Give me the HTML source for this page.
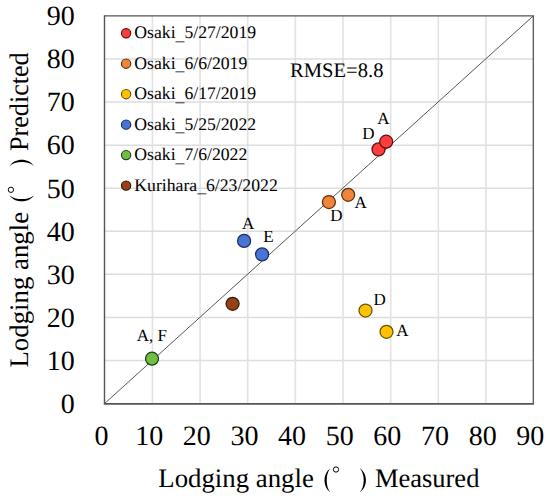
<!DOCTYPE html>
<html><head><meta charset="utf-8"><style>
html,body{margin:0;padding:0;background:#fff;width:550px;height:500px;overflow:hidden}
svg{display:block}
</style></head><body>
<svg width="550" height="500" viewBox="0 0 550 500" font-family="Liberation Serif" fill="#000" text-rendering="geometricPrecision">
<line x1="152.44" y1="15.90" x2="152.44" y2="403.60" stroke="#E2E2E2" stroke-width="1.6"/>
<line x1="104.50" y1="360.52" x2="533.30" y2="360.52" stroke="#DDDDDD" stroke-width="1.5"/>
<line x1="200.09" y1="15.90" x2="200.09" y2="403.60" stroke="#E2E2E2" stroke-width="1.6"/>
<line x1="104.50" y1="317.44" x2="533.30" y2="317.44" stroke="#DDDDDD" stroke-width="1.5"/>
<line x1="247.73" y1="15.90" x2="247.73" y2="403.60" stroke="#E2E2E2" stroke-width="1.6"/>
<line x1="104.50" y1="274.37" x2="533.30" y2="274.37" stroke="#DDDDDD" stroke-width="1.5"/>
<line x1="295.38" y1="15.90" x2="295.38" y2="403.60" stroke="#E2E2E2" stroke-width="1.6"/>
<line x1="104.50" y1="231.29" x2="533.30" y2="231.29" stroke="#DDDDDD" stroke-width="1.5"/>
<line x1="343.02" y1="15.90" x2="343.02" y2="403.60" stroke="#E2E2E2" stroke-width="1.6"/>
<line x1="104.50" y1="188.21" x2="533.30" y2="188.21" stroke="#DDDDDD" stroke-width="1.5"/>
<line x1="390.67" y1="15.90" x2="390.67" y2="403.60" stroke="#E2E2E2" stroke-width="1.6"/>
<line x1="104.50" y1="145.13" x2="533.30" y2="145.13" stroke="#DDDDDD" stroke-width="1.5"/>
<line x1="438.31" y1="15.90" x2="438.31" y2="403.60" stroke="#E2E2E2" stroke-width="1.6"/>
<line x1="104.50" y1="102.06" x2="533.30" y2="102.06" stroke="#DDDDDD" stroke-width="1.5"/>
<line x1="485.96" y1="15.90" x2="485.96" y2="403.60" stroke="#E2E2E2" stroke-width="1.6"/>
<line x1="104.50" y1="58.98" x2="533.30" y2="58.98" stroke="#DDDDDD" stroke-width="1.5"/>
<line x1="104.5" y1="403.6" x2="533.3" y2="15.9" stroke="#575757" stroke-width="1"/>
<path d="M104.5,15.9 H533.3 V403.6" fill="none" stroke="#555555" stroke-width="1.3"/>
<line x1="104.5" y1="15.25" x2="104.5" y2="403.6" stroke="#555555" stroke-width="1.4"/>
<line x1="103.8" y1="403.8" x2="533.9499999999999" y2="403.8" stroke="#555555" stroke-width="1.8"/>
<circle cx="378.5" cy="149.4" r="6.5" fill="#FF3D3D" stroke="#601010" stroke-width="1.25"/>
<circle cx="386.2" cy="141.7" r="6.5" fill="#FF3D3D" stroke="#601010" stroke-width="1.25"/>
<circle cx="348.2" cy="194.8" r="6.5" fill="#F0843A" stroke="#5C300E" stroke-width="1.25"/>
<circle cx="328.9" cy="202.0" r="6.5" fill="#F0843A" stroke="#5C300E" stroke-width="1.25"/>
<circle cx="365.5" cy="310.5" r="6.5" fill="#FFC200" stroke="#6A5200" stroke-width="1.25"/>
<circle cx="386.5" cy="331.8" r="6.5" fill="#FFC200" stroke="#6A5200" stroke-width="1.25"/>
<circle cx="244.1" cy="240.9" r="6.5" fill="#4775D6" stroke="#1E2E5C" stroke-width="1.25"/>
<circle cx="262.1" cy="254.4" r="6.5" fill="#4775D6" stroke="#1E2E5C" stroke-width="1.25"/>
<circle cx="232.6" cy="303.8" r="6.5" fill="#964216" stroke="#3A1806" stroke-width="1.25"/>
<circle cx="152.0" cy="358.7" r="6.5" fill="#6FBE45" stroke="#1F3D12" stroke-width="1.25"/>
<text x="383.50" y="123.80" text-anchor="middle" font-size="17">A</text>
<text x="368.50" y="138.50" text-anchor="middle" font-size="17">D</text>
<text x="360.70" y="207.70" text-anchor="middle" font-size="17">A</text>
<text x="336.40" y="220.50" text-anchor="middle" font-size="17">D</text>
<text x="379.60" y="304.80" text-anchor="middle" font-size="17">D</text>
<text x="402.40" y="336.00" text-anchor="middle" font-size="17">A</text>
<text x="248.20" y="229.10" text-anchor="middle" font-size="17">A</text>
<text x="268.40" y="241.80" text-anchor="middle" font-size="17">E</text>
<text x="151.75" y="341.00" text-anchor="middle" font-size="17">A, F</text>
<circle cx="126.1" cy="33.20" r="4.65" fill="#FF3D3D" stroke="#601010" stroke-width="1.15"/>
<text x="134.3" y="38.10" font-size="17.7">Osaki<tspan dy="1.8">_</tspan><tspan dy="-1.8">5/27/2019</tspan></text>
<circle cx="126.1" cy="63.68" r="4.65" fill="#F0843A" stroke="#5C300E" stroke-width="1.15"/>
<text x="134.3" y="68.58" font-size="17.7">Osaki<tspan dy="1.8">_</tspan><tspan dy="-1.8">6/6/2019</tspan></text>
<circle cx="126.1" cy="94.16" r="4.65" fill="#FFC200" stroke="#6A5200" stroke-width="1.15"/>
<text x="134.3" y="99.06" font-size="17.7">Osaki<tspan dy="1.8">_</tspan><tspan dy="-1.8">6/17/2019</tspan></text>
<circle cx="126.1" cy="124.64" r="4.65" fill="#4775D6" stroke="#1E2E5C" stroke-width="1.15"/>
<text x="134.3" y="129.54" font-size="17.7">Osaki<tspan dy="1.8">_</tspan><tspan dy="-1.8">5/25/2022</tspan></text>
<circle cx="126.1" cy="155.12" r="4.65" fill="#6FBE45" stroke="#1F3D12" stroke-width="1.15"/>
<text x="134.3" y="160.02" font-size="17.7">Osaki<tspan dy="1.8">_</tspan><tspan dy="-1.8">7/6/2022</tspan></text>
<circle cx="126.1" cy="185.60" r="4.65" fill="#964216" stroke="#3A1806" stroke-width="1.15"/>
<text x="134.3" y="190.50" font-size="17.7">Kurihara<tspan dy="1.8">_</tspan><tspan dy="-1.8">6/23/2022</tspan></text>
<text x="290.0" y="76.8" font-size="20.6">RMSE=8.8</text>
<text x="74.8" y="412.95" text-anchor="end" font-size="28">0</text>
<text x="74.8" y="369.87" text-anchor="end" font-size="28">10</text>
<text x="74.8" y="326.79" text-anchor="end" font-size="28">20</text>
<text x="74.8" y="283.72" text-anchor="end" font-size="28">30</text>
<text x="74.8" y="240.64" text-anchor="end" font-size="28">40</text>
<text x="74.8" y="197.56" text-anchor="end" font-size="28">50</text>
<text x="74.8" y="154.48" text-anchor="end" font-size="28">60</text>
<text x="74.8" y="111.41" text-anchor="end" font-size="28">70</text>
<text x="74.8" y="68.33" text-anchor="end" font-size="28">80</text>
<text x="74.8" y="25.25" text-anchor="end" font-size="28">90</text>
<text x="101.50" y="444.6" text-anchor="middle" font-size="28">0</text>
<text x="149.14" y="444.6" text-anchor="middle" font-size="28">10</text>
<text x="196.79" y="444.6" text-anchor="middle" font-size="28">20</text>
<text x="244.43" y="444.6" text-anchor="middle" font-size="28">30</text>
<text x="292.08" y="444.6" text-anchor="middle" font-size="28">40</text>
<text x="339.72" y="444.6" text-anchor="middle" font-size="28">50</text>
<text x="387.37" y="444.6" text-anchor="middle" font-size="28">60</text>
<text x="435.01" y="444.6" text-anchor="middle" font-size="28">70</text>
<text x="482.66" y="444.6" text-anchor="middle" font-size="28">80</text>
<text x="530.30" y="444.6" text-anchor="middle" font-size="28">90</text>
<g transform="translate(159.3,486.7)"><text x="-1" y="0" font-size="26.8">Lodging angle</text><path d="M171.1,-18.4 C163.2,-13.4 163.2,0.7 171.1,5.7 C166.2,0.7 166.2,-13.4 171.1,-18.4 Z" fill="#000"/><path d="M200.3,-18.4 C208.8,-13.4 208.8,0.7 200.3,5.7 C205.8,0.7 205.8,-13.4 200.3,-18.4 Z" fill="#000"/><circle cx="176.7" cy="-17.2" r="2.65" fill="none" stroke="#000" stroke-width="1.0"/><text x="215.6" y="0" font-size="26.8" textLength="104.5" lengthAdjust="spacingAndGlyphs">Measured</text></g>
<g transform="translate(28.1,366.5) rotate(-90)"><text x="-1" y="0" font-size="26.8">Lodging angle</text><path d="M171.1,-18.4 C163.2,-13.4 163.2,0.7 171.1,5.7 C166.2,0.7 166.2,-13.4 171.1,-18.4 Z" fill="#000"/><path d="M200.3,-18.4 C208.8,-13.4 208.8,0.7 200.3,5.7 C205.8,0.7 205.8,-13.4 200.3,-18.4 Z" fill="#000"/><circle cx="176.7" cy="-17.2" r="2.65" fill="none" stroke="#000" stroke-width="1.0"/><text x="215.6" y="0" font-size="26.8" textLength="98.5" lengthAdjust="spacingAndGlyphs">Predicted</text></g>
</svg>
</body></html>
